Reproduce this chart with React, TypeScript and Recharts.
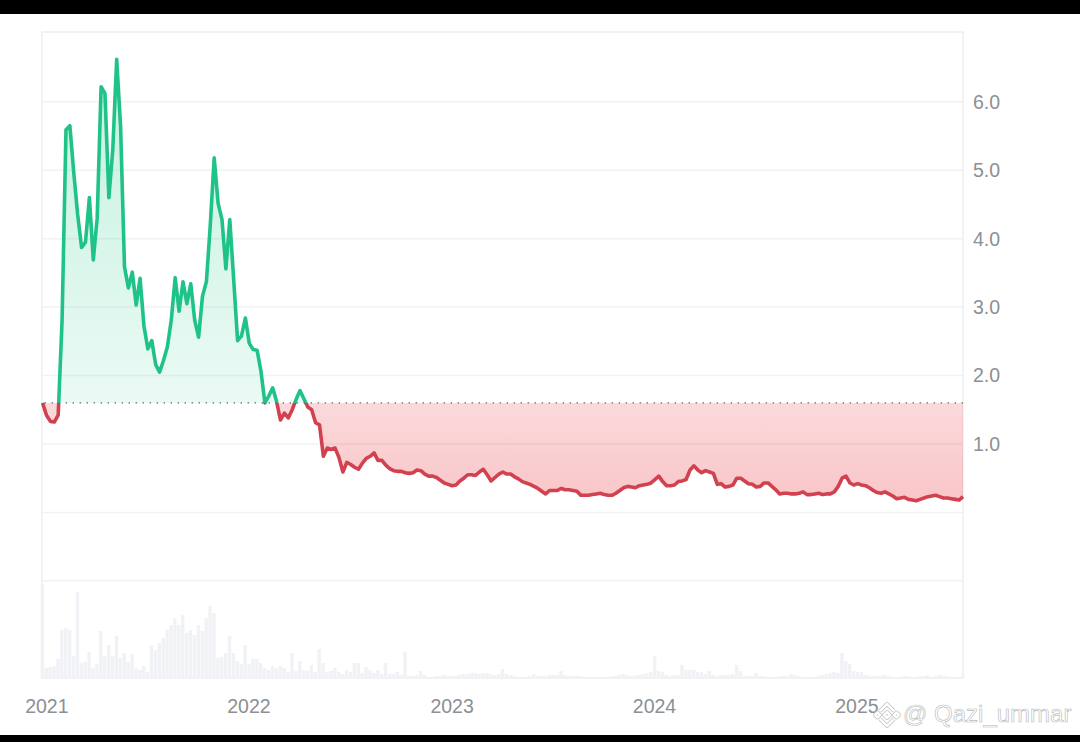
import React from 'react';
import {
  ComposedChart,
  Area,
  Bar,
  XAxis,
  YAxis,
  CartesianGrid,
  ReferenceLine,
  ReferenceArea,
} from 'recharts';

// weekly close
const priceValues = [
  1.6, 1.42, 1.33, 1.32, 1.42, 2.81, 5.59, 5.65, 4.96, 4.35,
  3.87, 3.95, 4.6, 3.69, 4.3, 6.22, 6.12, 4.6, 5.3, 6.62,
  5.64, 3.59, 3.28, 3.51, 3.03, 3.42, 2.72, 2.39, 2.51, 2.16,
  2.05, 2.22, 2.42, 2.81, 3.43, 2.94, 3.37, 3.05, 3.34, 2.81,
  2.56, 3.16, 3.37, 4.2, 5.18, 4.52, 4.28, 3.56, 4.28, 3.4,
  2.51, 2.58, 2.84, 2.47, 2.38, 2.37, 2.06, 1.6, 1.7, 1.82,
  1.62, 1.35, 1.45, 1.38, 1.5, 1.65, 1.78, 1.66, 1.54, 1.5,
  1.31, 1.28, 0.82, 0.94, 0.92, 0.94, 0.8, 0.59, 0.73, 0.7,
  0.66, 0.63, 0.72, 0.79, 0.82, 0.87, 0.76, 0.76, 0.69, 0.64,
  0.61, 0.6, 0.6, 0.58, 0.57, 0.58, 0.62, 0.61, 0.56, 0.53,
  0.53, 0.51, 0.47, 0.43, 0.41, 0.39, 0.4, 0.46, 0.5, 0.55,
  0.55, 0.54, 0.59, 0.63, 0.55, 0.46, 0.51, 0.56, 0.59, 0.56,
  0.56, 0.52, 0.49, 0.45, 0.43, 0.41, 0.38, 0.35, 0.31, 0.27,
  0.32, 0.32, 0.32, 0.35, 0.33, 0.33, 0.32, 0.31, 0.25, 0.25,
  0.25, 0.26, 0.27, 0.28, 0.26, 0.25, 0.25, 0.28, 0.32, 0.36,
  0.38, 0.37, 0.36, 0.39, 0.4, 0.41, 0.43, 0.48, 0.53, 0.45,
  0.39, 0.39, 0.4, 0.45, 0.46, 0.48, 0.62, 0.68, 0.62, 0.58,
  0.61, 0.59, 0.57, 0.41, 0.42, 0.37, 0.38, 0.4, 0.5, 0.5,
  0.46, 0.42, 0.41, 0.37, 0.38, 0.43, 0.43, 0.38, 0.33, 0.27,
  0.28, 0.28, 0.27, 0.27, 0.28, 0.3, 0.26, 0.26, 0.27, 0.28,
  0.26, 0.27, 0.27, 0.3, 0.38, 0.5, 0.53, 0.43, 0.4, 0.42,
  0.4, 0.39, 0.36, 0.32, 0.29, 0.28, 0.3, 0.27, 0.24, 0.2,
  0.21, 0.22, 0.19, 0.18, 0.17, 0.19, 0.21, 0.23, 0.24, 0.25,
  0.23, 0.21, 0.21, 0.2, 0.19, 0.18, 0.23,
];

const volumeValues = [
  93, 10, 11, 12, 19, 48, 50, 48, 22, 86,
  15, 16, 26, 10, 14, 47, 22, 33, 22, 42,
  20, 25, 16, 24, 10, 8, 12, 6, 33, 28,
  35, 40, 48, 53, 60, 53, 63, 45, 48, 43,
  53, 47, 60, 72, 65, 20, 21, 25, 42, 25,
  17, 14, 33, 14, 19, 19, 15, 10, 8, 12,
  10, 12, 10, 6, 25, 7, 17, 8, 7, 13,
  6, 29, 15, 6, 7, 10, 6, 4, 8, 6,
  15, 15, 5, 11, 8, 5, 8, 4, 15, 4,
  4, 6, 3, 26, 2, 2, 3, 7, 3, 1,
  1, 2, 2, 3, 2, 2, 2, 3, 4, 4,
  5, 5, 4, 5, 5, 4, 3, 4, 9, 4,
  3, 2, 1, 1, 1, 2, 4, 2, 2, 2,
  3, 3, 3, 7, 3, 2, 2, 2, 2, 1,
  1, 1, 1, 1, 1, 1, 2, 2, 3, 4,
  3, 2, 3, 3, 4, 5, 6, 22, 7, 6,
  3, 2, 3, 3, 13, 8, 8, 8, 6, 6,
  4, 7, 3, 2, 3, 3, 3, 4, 13, 7,
  2, 2, 2, 5, 2, 2, 1, 1, 1, 2,
  2, 2, 4, 3, 2, 1, 1, 1, 1, 2,
  3, 4, 5, 6, 5, 25, 17, 14, 7, 6,
  6, 3, 2, 2, 2, 2, 3, 2, 1, 1,
  1, 2, 2, 1, 1, 2, 2, 3, 1, 2,
  3, 2, 2, 1, 1, 1, 3,
];

const yearLabels = ['2021', '2022', '2023', '2024', '2025'];
const yearWeeks = [1.1, 52.9, 105, 156.9, 208.8];
const priceTicks = [-1, 0, 1, 2, 3, 4, 5, 6];

const basePrice = 1.6;
const priceDomain = [-2.42, 7.02];
const volumeDomain = [0, 646];
const weekDomain = [-0.15, 236];

const chartData = priceValues.map((price, week) => ({
  week,
  price,
  volume: volumeValues[week],
}));

const maxPrice = Math.max(...priceValues);
const minPrice = Math.min(...priceValues);
// where the base price sits inside the area's bounding box
const splitOffset = (maxPrice - basePrice) / (maxPrice - minPrice);

const GREEN = '#1fc387';
const RED = '#d2414f';
const TICK_STYLE = { fontSize: 19.5, fill: '#8c8f94', fontFamily: '"Liberation Sans", Arial, sans-serif' };

const App: React.FC = () => {
  return (
    <div style={{ position: 'absolute', top: 0, left: 0, width: 1080, height: 742, background: '#fff', overflow: 'hidden' }}>
      <ComposedChart
        width={1080}
        height={742}
        data={chartData}
        margin={{ top: 32, right: 0, bottom: 0, left: 42 }}
      >
        <defs>
          <linearGradient id="priceStroke" x1="0" y1="0" x2="0" y2="1">
            <stop offset={splitOffset} stopColor={GREEN} />
            <stop offset={splitOffset} stopColor={RED} />
          </linearGradient>
          <linearGradient id="priceFill" x1="0" y1="0" x2="0" y2="1">
            <stop offset={0} stopColor="#16c784" stopOpacity={0.25} />
            <stop offset={splitOffset} stopColor="#16c784" stopOpacity={0.09} />
            <stop offset={splitOffset} stopColor="#ea3943" stopOpacity={0.19} />
            <stop offset={1} stopColor="#ea3943" stopOpacity={0.29} />
          </linearGradient>
        </defs>
        <CartesianGrid vertical={false} stroke="#f1f2f4" strokeWidth={1.5} yAxisId="price" syncWithTicks />
        <XAxis
          dataKey="week"
          type="number"
          domain={weekDomain}
          ticks={yearWeeks}
          interval={0}
          height={64}
          axisLine={false}
          tickLine={false}
          tickMargin={15}
          tick={TICK_STYLE}
          tickFormatter={(week: number) => yearLabels[yearWeeks.indexOf(week)]}
        />
        <YAxis
          yAxisId="price"
          orientation="right"
          width={117}
          domain={priceDomain}
          ticks={priceTicks}
          interval={0}
          axisLine={false}
          tickLine={false}
          tickMargin={4}
          tick={TICK_STYLE}
          tickFormatter={(v: number) => (v > 0 ? v.toFixed(1) : '')}
        />
        <YAxis yAxisId="volume" hide domain={volumeDomain} />
        <ReferenceArea
          yAxisId="price"
          x1={weekDomain[0]}
          x2={weekDomain[1]}
          y1={priceDomain[0]}
          y2={priceDomain[1]}
          fill="none"
          stroke="#eceef0"
          strokeWidth={1.5}
        />
        <Bar yAxisId="volume" dataKey="volume" barSize={3.4} fill="#f0f2f5" isAnimationActive={false} />
        <Area
          yAxisId="price"
          type="linear"
          dataKey="price"
          baseValue={basePrice}
          stroke="url(#priceStroke)"
          strokeWidth={3.6}
          strokeLinejoin="round"
          fill="url(#priceFill)"
          fillOpacity={1}
          dot={false}
          activeDot={false}
          isAnimationActive={false}
        />
        <ReferenceLine yAxisId="price" y={basePrice} stroke="#5f6368" strokeWidth={1.4} strokeDasharray="1.4 5.6" />
      </ComposedChart>

      {/* letterbox bars of the screenshot */}
      <div style={{ position: 'absolute', top: 0, left: 0, width: 1080, height: 14, background: '#000' }} />
      <div style={{ position: 'absolute', top: 735, left: 0, width: 1080, height: 7, background: '#000' }} />

      {/* watermark */}
      <svg width={32} height={32} viewBox="0 0 32 32" style={{ position: 'absolute', left: 871, top: 699 }}>
        {[{ stroke: '#c9c9c9', width: 4 }, { stroke: '#fff', width: 2.4 }].map((pen) => (
          <g key={pen.stroke} fill="none" stroke={pen.stroke} strokeWidth={pen.width} strokeLinejoin="round">
            <polyline points="9,12 16,5 23,12" />
            <polyline points="9,20 16,27 23,20" />
            <polygon points="4,16 6.5,13.5 9,16 6.5,18.5" />
            <polygon points="23,16 25.5,13.5 28,16 25.5,18.5" />
            <polygon points="13,16 16,13 19,16 16,19" />
          </g>
        ))}
      </svg>
      <div
        style={{
          position: 'absolute',
          left: 903,
          top: 700,
          fontFamily: '"Liberation Sans", Arial, sans-serif',
          fontSize: 24,
          color: '#fff',
          WebkitTextStroke: '0.6px #b8b8b8',
          whiteSpace: 'nowrap',
        }}
      >
        @ Qazi_ummar
      </div>
    </div>
  );
};

export default App;
